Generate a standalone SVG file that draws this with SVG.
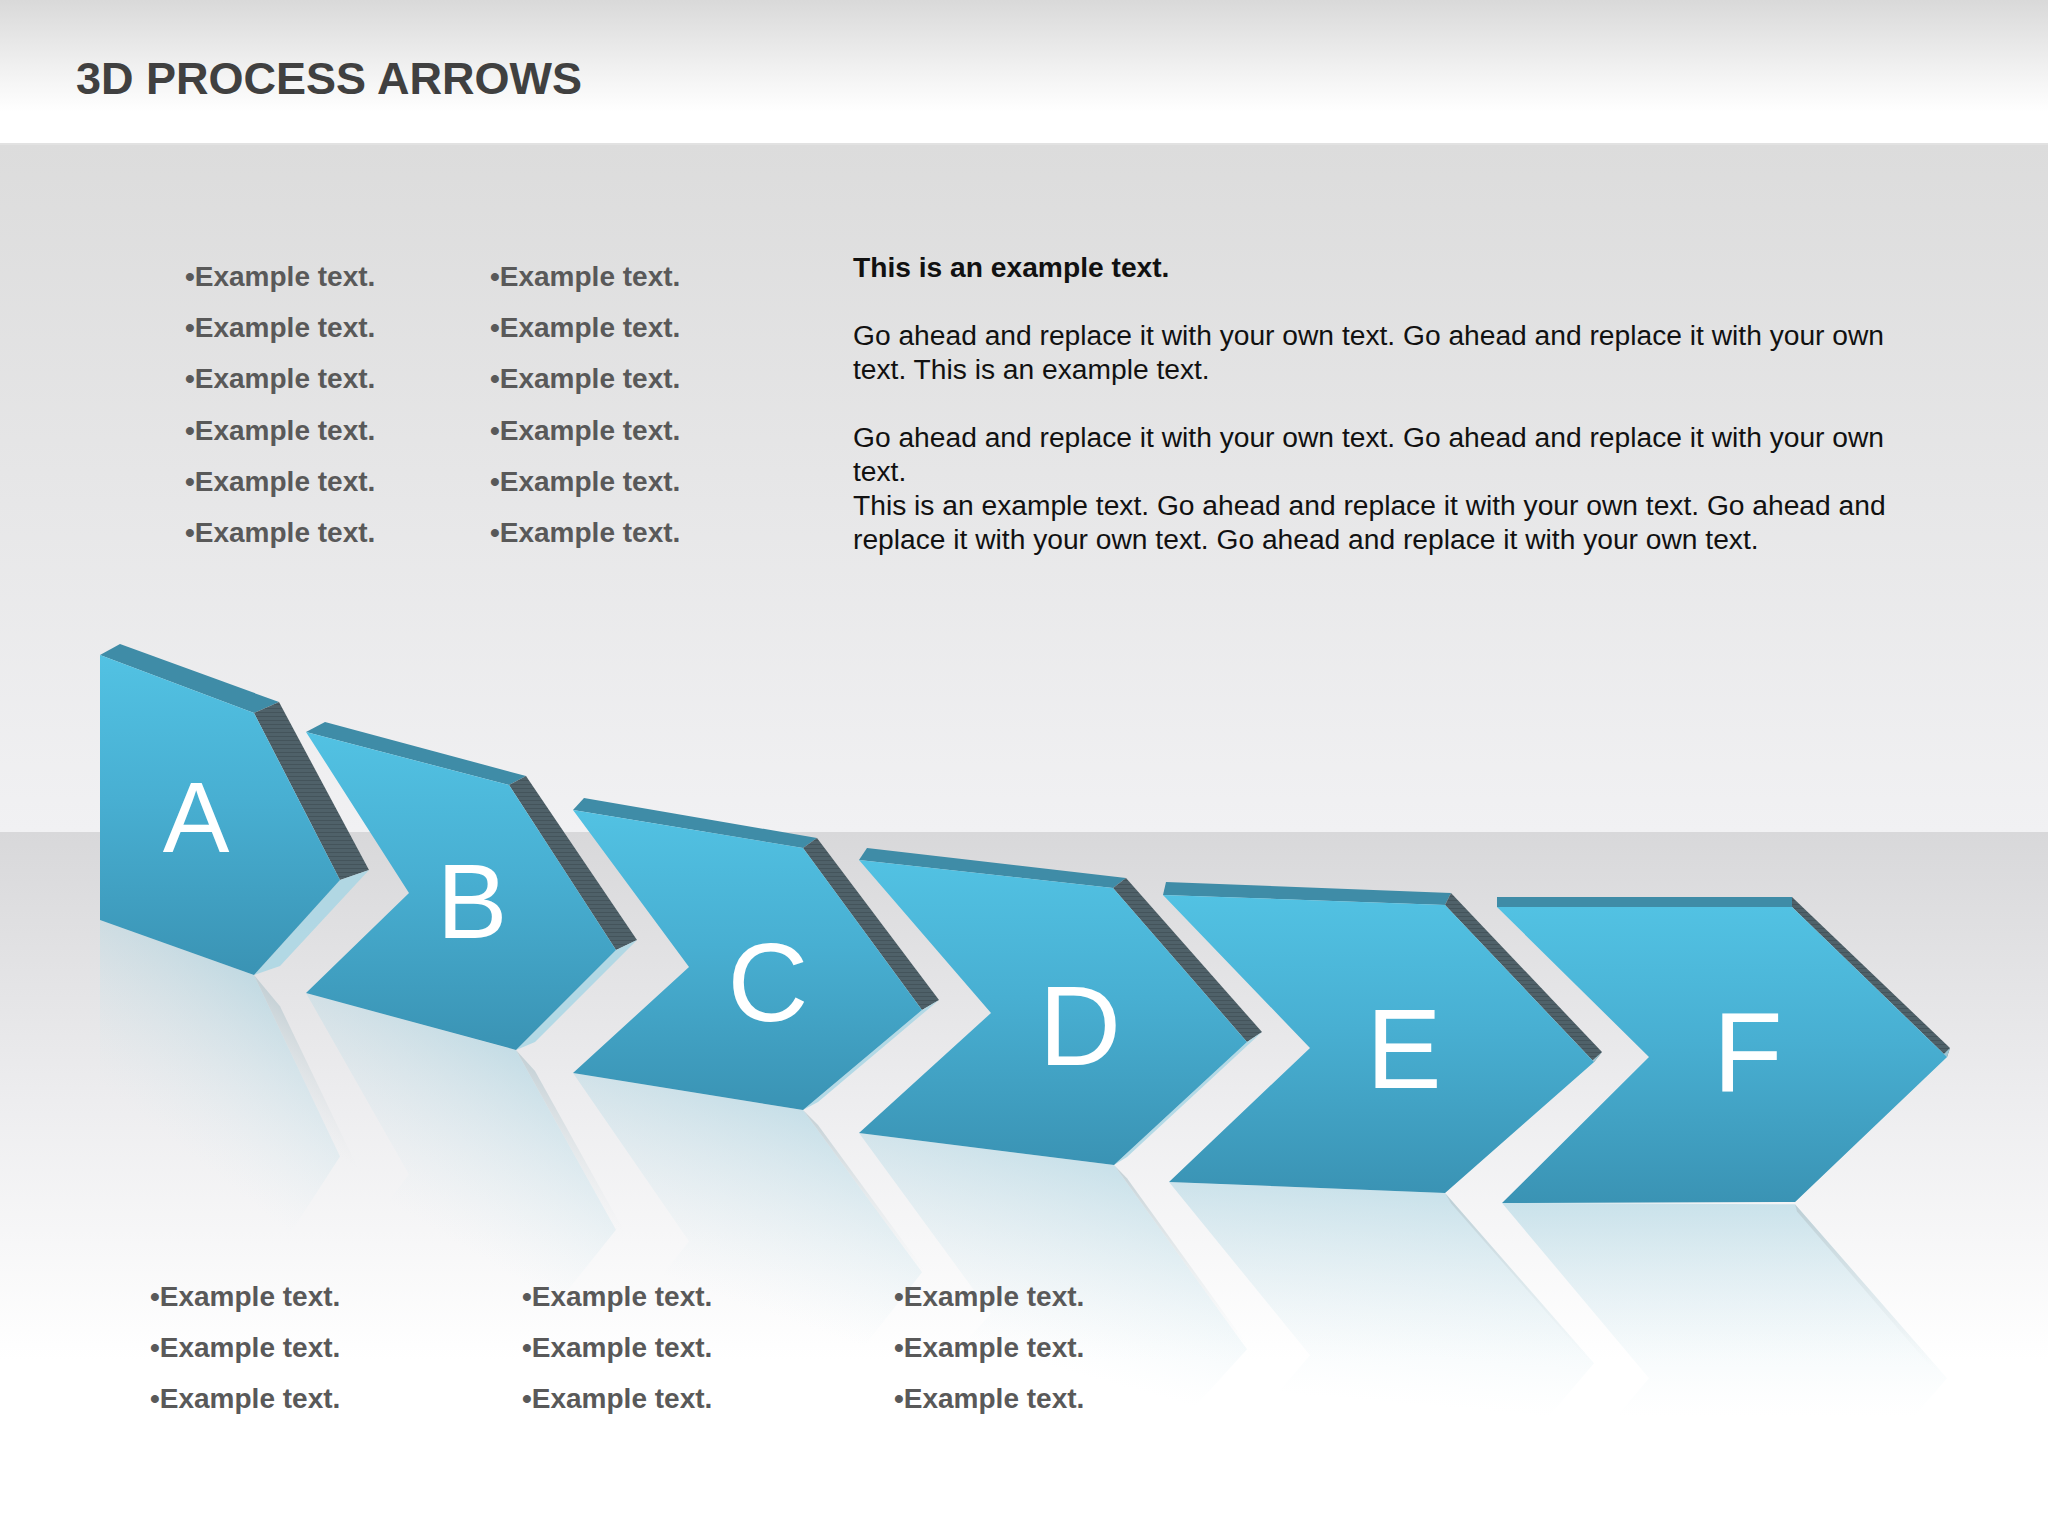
<svg xmlns="http://www.w3.org/2000/svg" width="2048" height="1536" viewBox="0 0 2048 1536">
<defs>
<linearGradient id="hdr" x1="0" y1="0" x2="0" y2="1"><stop offset="0" stop-color="#d9d9d9"/><stop offset="0.5" stop-color="#f2f2f2"/><stop offset="0.78" stop-color="#ffffff"/><stop offset="1" stop-color="#ffffff"/></linearGradient>
<linearGradient id="upper" x1="0" y1="0" x2="0" y2="1"><stop offset="0" stop-color="#dcdcdc"/><stop offset="1" stop-color="#f1f1f3"/></linearGradient>
<linearGradient id="lower" x1="0" y1="0" x2="0" y2="1"><stop offset="0" stop-color="#d8d8da"/><stop offset="0.4" stop-color="#eeeef0"/><stop offset="0.75" stop-color="#ffffff"/><stop offset="1" stop-color="#ffffff"/></linearGradient>
<linearGradient id="front" x1="0" y1="0" x2="0" y2="1"><stop offset="0" stop-color="#52c2e3"/><stop offset="0.45" stop-color="#48afd2"/><stop offset="1" stop-color="#3a93b4"/></linearGradient>
<linearGradient id="refl" x1="0" y1="1" x2="0" y2="0"><stop offset="0" stop-color="#9fd0e0" stop-opacity="0.5"/><stop offset="0.6" stop-color="#d6eaf0" stop-opacity="0"/></linearGradient>
<linearGradient id="reflside" x1="0" y1="1" x2="0" y2="0"><stop offset="0" stop-color="#b9c9cf" stop-opacity="0.8"/><stop offset="0.9" stop-color="#e0e6e8" stop-opacity="0"/></linearGradient>
<pattern id="stripes" width="6" height="4" patternUnits="userSpaceOnUse"><rect width="6" height="4" fill="#4f6169"/><rect width="6" height="1" fill="#44545b"/></pattern>
<style>
.front{fill:url(#front)}
.top{fill:#3f8ca7}
.side{fill:url(#stripes)}
.lower{fill:#a9d6e4;opacity:0.85}
.rf{fill:url(#refl)}
.rs{fill:url(#reflside)}
.letter{font-family:"Liberation Sans",Arial,sans-serif;fill:#ffffff;text-anchor:middle}
.bul{font-family:"Liberation Sans",Arial,sans-serif;font-weight:bold;font-size:28px;fill:#595959}
.body{font-family:"Liberation Sans",Arial,sans-serif;font-size:28.2px;fill:#111111}
</style>
</defs>
<rect x="0" y="0" width="2048" height="144" fill="url(#hdr)"/>
<rect x="0" y="144" width="2048" height="688" fill="url(#upper)"/>
<rect x="0" y="143" width="2048" height="2" fill="#e2e2e2"/>
<rect x="0" y="832" width="2048" height="704" fill="url(#lower)"/>
<text x="76" y="94" font-family="'Liberation Sans',Arial,sans-serif" font-weight="bold" font-size="45" fill="#404040">3D PROCESS ARROWS</text>
<g id="text-col1">
<text class="bul" x="185" y="286">•Example text.</text>
<text class="bul" x="185" y="337">•Example text.</text>
<text class="bul" x="185" y="388">•Example text.</text>
<text class="bul" x="185" y="440">•Example text.</text>
<text class="bul" x="185" y="491">•Example text.</text>
<text class="bul" x="185" y="542">•Example text.</text>
</g>
<g id="text-col2">
<text class="bul" x="490" y="286">•Example text.</text>
<text class="bul" x="490" y="337">•Example text.</text>
<text class="bul" x="490" y="388">•Example text.</text>
<text class="bul" x="490" y="440">•Example text.</text>
<text class="bul" x="490" y="491">•Example text.</text>
<text class="bul" x="490" y="542">•Example text.</text>
</g>
<g id="text-body">
<text class="body" x="853" y="277" font-weight="bold">This is an example text.</text>
<text class="body" x="853" y="345">Go ahead and replace it with your own text. Go ahead and replace it with your own</text>
<text class="body" x="853" y="379">text. This is an example text.</text>
<text class="body" x="853" y="447">Go ahead and replace it with your own text. Go ahead and replace it with your own</text>
<text class="body" x="853" y="481">text.</text>
<text class="body" x="853" y="515">This is an example text. Go ahead and replace it with your own text. Go ahead and</text>
<text class="body" x="853" y="549">replace it with your own text. Go ahead and replace it with your own text.</text>
</g>
<g id="reflections">
<g transform="matrix(1,0.7857,0,-1.2,0,1945.4)"><polygon class="rf" points="100,655 254,713 340,880 254,975 100,920"/><polygon class="rs" points="340,880 369,870 280,966 254,975"/></g>
<g transform="matrix(1,0.5971,0,-1.2,0,2001.9)"><polygon class="rf" points="306,732 509,785 616,950 516,1050 306,993 409,893"/><polygon class="rs" points="616,950 637,940 535,1042 516,1050"/></g>
<g transform="matrix(1,0.354,0,-1.2,0,2157.8)"><polygon class="rf" points="573,810 803,848 922,1010 803,1110 573,1073 689,967"/><polygon class="rs" points="922,1010 939,1000 818,1102 803,1110"/></g>
<g transform="matrix(1,0.2761,0,-1.2,0,2255.4)"><polygon class="rf" points="859,860 1113,888 1247,1042 1114,1165 859,1133 991,1013"/><polygon class="rs" points="1247,1042 1262,1032 1127,1157 1114,1165"/></g>
<g transform="matrix(1,0.0877,0,-1.2,0,2497.9)"><polygon class="rf" points="1163,895 1445,905 1594,1062 1445,1193 1169,1182 1310,1048"/><polygon class="rs" points="1594,1062 1602,1052 1451,1185 1445,1193"/></g>
<g transform="matrix(1,0,0,-1.2,0,2646.6)"><polygon class="rf" points="1497,907 1792,907 1947,1057 1795,1202 1502,1203 1649,1057"/><polygon class="rs" points="1947,1057 1950,1048 1797,1196 1795,1202"/></g>
</g>
<g id="arrow-A">
<polygon class="top" points="100,655 120,644 279,702 254,713"/>
<polygon class="side" points="254,713 279,702 369,870 340,880"/>
<polygon class="lower" points="340,880 369,870 280,966 254,975"/>
<polygon class="front" points="100,655 254,713 340,880 254,975 100,920"/>
<text class="letter" x="196" y="852" font-size="100">A</text>
</g>
<g id="arrow-B">
<polygon class="top" points="306,732 325,722 526,776 509,785"/>
<polygon class="side" points="509,785 526,776 637,940 616,950"/>
<polygon class="lower" points="616,950 637,940 535,1042 516,1050"/>
<polygon class="front" points="306,732 509,785 616,950 516,1050 306,993 409,893"/>
<text class="letter" x="472" y="938" font-size="106">B</text>
</g>
<g id="arrow-C">
<polygon class="top" points="573,810 584,798 817,838 803,848"/>
<polygon class="side" points="803,848 817,838 939,1000 922,1010"/>
<polygon class="lower" points="922,1010 939,1000 818,1102 803,1110"/>
<polygon class="front" points="573,810 803,848 922,1010 803,1110 573,1073 689,967"/>
<text class="letter" x="768" y="1021" font-size="112">C</text>
</g>
<g id="arrow-D">
<polygon class="top" points="859,860 867,848 1126,878 1113,888"/>
<polygon class="side" points="1113,888 1126,878 1262,1032 1247,1042"/>
<polygon class="lower" points="1247,1042 1262,1032 1127,1157 1114,1165"/>
<polygon class="front" points="859,860 1113,888 1247,1042 1114,1165 859,1133 991,1013"/>
<text class="letter" x="1080" y="1065" font-size="114">D</text>
</g>
<g id="arrow-E">
<polygon class="top" points="1163,895 1166,882 1451,893 1445,905"/>
<polygon class="side" points="1445,905 1451,893 1602,1052 1594,1062"/>
<polygon class="lower" points="1594,1062 1602,1052 1451,1185 1445,1193"/>
<polygon class="front" points="1163,895 1445,905 1594,1062 1445,1193 1169,1182 1310,1048"/>
<text class="letter" x="1404" y="1088" font-size="113">E</text>
</g>
<g id="arrow-F">
<polygon class="top" points="1497,907 1497,897 1792,897 1792,907"/>
<polygon class="side" points="1792,907 1792,897 1950,1048 1947,1057"/>
<polygon class="lower" points="1947,1057 1950,1048 1797,1196 1795,1202"/>
<polygon class="front" points="1497,907 1792,907 1947,1057 1795,1202 1502,1203 1649,1057"/>
<text class="letter" x="1713" y="1092" font-size="114" style="text-anchor:start">F</text>
</g>
<g id="text-bottom">
<text class="bul" x="150" y="1306">•Example text.</text>
<text class="bul" x="150" y="1357">•Example text.</text>
<text class="bul" x="150" y="1408">•Example text.</text>
<text class="bul" x="522" y="1306">•Example text.</text>
<text class="bul" x="522" y="1357">•Example text.</text>
<text class="bul" x="522" y="1408">•Example text.</text>
<text class="bul" x="894" y="1306">•Example text.</text>
<text class="bul" x="894" y="1357">•Example text.</text>
<text class="bul" x="894" y="1408">•Example text.</text>
</g>
</svg>
